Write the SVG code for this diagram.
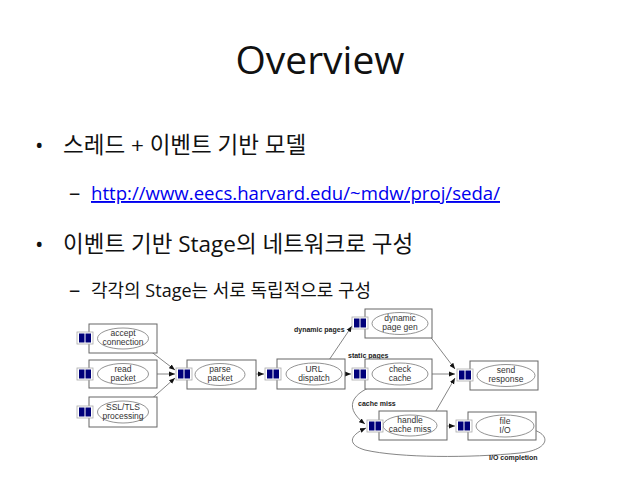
<svg xmlns="http://www.w3.org/2000/svg" width="638" height="478" viewBox="0 0 638 478">
<style>
.title{font-family:"Open Sans","Noto Sans CJK KR",sans-serif;font-size:39px;fill:#111}
.b1{font-family:"Open Sans","Noto Sans CJK KR",sans-serif;font-size:22.5px;fill:#111}
.b2{font-family:"Open Sans","Noto Sans CJK KR",sans-serif;font-size:18px;fill:#111}
.link{font-family:"Open Sans",sans-serif;font-size:19px;fill:#0000EE;text-decoration:underline}
.box{fill:#fff;stroke:#666;stroke-width:1}
.ell{fill:#fff;stroke:#777;stroke-width:0.8}
.nt{font-family:"Liberation Sans",Arial,sans-serif;font-size:8.5px;fill:#333;text-anchor:middle}
.lbl{font-family:"Liberation Sans",Arial,sans-serif;font-size:7px;font-weight:bold;fill:#222}
.c{fill:none;stroke:#666;stroke-width:0.8;marker-end:url(#ah)}
.qf{fill:#fff;stroke:#aaa;stroke-width:0.8}
.qb{fill:#00007a}
</style>
<defs>
<marker id="ah" viewBox="0 0 10 10" refX="10" refY="5" markerWidth="6" markerHeight="6" markerUnits="userSpaceOnUse" orient="auto">
<path d="M0,1 L10,5 L0,9 Z" fill="#111"/>
</marker>
<g id="q">
<rect class="qf" x="0" y="0" width="16" height="12"/>
<rect class="qb" x="2" y="1.5" width="5.5" height="9"/>
<rect class="qb" x="8.5" y="1.5" width="5.5" height="9"/>
</g>
</defs>
<rect width="638" height="478" fill="#fff"/>
<text class="title" x="320" y="74" text-anchor="middle">Overview</text>
<text class="b1" x="35" y="153">•</text>
<text class="b1" x="63" y="153">스레드 + 이벤트 기반 모델</text>
<text class="b1" x="69" y="200">–</text>
<text class="link" x="91" y="200" textLength="409" lengthAdjust="spacingAndGlyphs">http://www.eecs.harvard.edu/~mdw/proj/seda/</text>
<text class="b1" x="35" y="252">•</text>
<text class="b1" x="63" y="252">이벤트 기반 Stage의 네트워크로 구성</text>
<text class="b1" x="69" y="297">–</text>
<text class="b2" x="91" y="297">각각의 Stage는 서로 독립적으로 구성</text>

<g id="connectors">
<line class="c" x1="145" y1="347" x2="175" y2="370"/>
<line class="c" x1="148" y1="374" x2="175" y2="374"/>
<line class="c" x1="148" y1="402" x2="175" y2="378"/>
<line class="c" x1="245" y1="374" x2="264" y2="374"/>
<line class="c" x1="327" y1="363" x2="352" y2="326"/>
<line class="c" x1="342" y1="374" x2="351" y2="374"/>
<line class="c" x1="426" y1="331" x2="455" y2="369"/>
<line class="c" x1="428" y1="374" x2="455" y2="374"/>
<line class="c" x1="433" y1="416" x2="455" y2="378"/>
<path class="c" d="M385,382 C355,390 340,405 365,424"/>
<line class="c" x1="437" y1="426" x2="455" y2="426"/>
<path class="c" d="M534,430 C552,436 548,450 520,453 C470,458 400,458 365,450 C348,445 348,436 366,428"/>
<text class="lbl" x="294" y="332">dynamic pages</text>
<text class="lbl" x="348" y="358">static pages</text>
<text class="lbl" x="358" y="406">cache miss</text>
<text class="lbl" x="489" y="460">I/O completion</text>
</g>

<g id="accept">
<rect class="box" x="89" y="324" width="68" height="29"/>
<ellipse class="ell" cx="123" cy="338.5" rx="25.5" ry="10.5"/>
<text class="nt" x="123" y="336">accept</text>
<text class="nt" x="123" y="345">connection</text>
<use href="#q" x="77" y="332"/>
</g>
<g id="read">
<rect class="box" x="89" y="360" width="68" height="28"/>
<ellipse class="ell" cx="123" cy="374" rx="25.5" ry="10.5"/>
<text class="nt" x="123" y="372">read</text>
<text class="nt" x="123" y="381">packet</text>
<use href="#q" x="77" y="368"/>
</g>
<g id="ssl">
<rect class="box" x="89" y="397" width="68" height="30"/>
<ellipse class="ell" cx="123" cy="412" rx="25.5" ry="11"/>
<text class="nt" x="123" y="410">SSL/TLS</text>
<text class="nt" x="123" y="419">processing</text>
<use href="#q" x="77" y="406"/>
</g>
<g id="parse">
<rect class="box" x="187" y="360" width="69" height="29"/>
<ellipse class="ell" cx="220" cy="374.5" rx="25" ry="11"/>
<text class="nt" x="220" y="372">parse</text>
<text class="nt" x="220" y="381">packet</text>
<use href="#q" x="176" y="368"/>
</g>
<g id="url">
<rect class="box" x="277" y="359" width="68" height="30"/>
<ellipse class="ell" cx="314" cy="374" rx="28" ry="11"/>
<text class="nt" x="314" y="372">URL</text>
<text class="nt" x="314" y="381">dispatch</text>
<use href="#q" x="265" y="368"/>
</g>
<g id="dynamic">
<rect class="box" x="365" y="309" width="67" height="29"/>
<ellipse class="ell" cx="400" cy="323.5" rx="28" ry="11"/>
<text class="nt" x="400" y="321">dynamic</text>
<text class="nt" x="400" y="330">page gen</text>
<use href="#q" x="352" y="317"/>
</g>
<g id="check">
<rect class="box" x="365" y="359" width="67" height="30"/>
<ellipse class="ell" cx="400" cy="374" rx="28" ry="11"/>
<text class="nt" x="400" y="372">check</text>
<text class="nt" x="400" y="381">cache</text>
<use href="#q" x="352" y="368"/>
</g>
<g id="handle">
<rect class="box" x="379" y="411" width="68" height="29"/>
<ellipse class="ell" cx="410" cy="425.5" rx="27" ry="10.5"/>
<text class="nt" x="410" y="423">handle</text>
<text class="nt" x="410" y="432">cache miss</text>
<use href="#q" x="367" y="420"/>
</g>
<g id="send">
<rect class="box" x="470" y="361" width="68" height="29"/>
<ellipse class="ell" cx="506" cy="375.5" rx="29" ry="11"/>
<text class="nt" x="506" y="373">send</text>
<text class="nt" x="506" y="382">response</text>
<use href="#q" x="457" y="369"/>
</g>
<g id="file">
<rect class="box" x="468" y="412" width="68" height="28"/>
<ellipse class="ell" cx="505" cy="426" rx="29" ry="11"/>
<text class="nt" x="505" y="424">file</text>
<text class="nt" x="505" y="433">I/O</text>
<use href="#q" x="456" y="420"/>
</g>
</svg>
